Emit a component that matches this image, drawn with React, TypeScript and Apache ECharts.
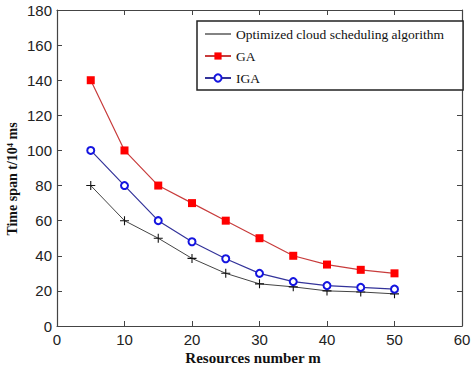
import React, { useEffect, useRef } from "react";
import * as echarts from "echarts";

const resources = [5, 10, 15, 20, 25, 30, 35, 40, 45, 50];
const optimized = [80, 60, 50, 38.5, 30, 24, 22.3, 20, 19.4, 18.3];
const ga = [140, 100, 80, 70, 60, 50, 40, 35, 32, 30];
const iga = [100, 80, 60, 48, 38.3, 30, 25.3, 23, 22, 21];
const seriesNames = ["Optimized cloud scheduling algorithm", "GA", "IGA"];
const xTitle = "Resources number m";
const yTitle = "Time span t/10\u2074 ms";

const plusPath = "path://M0,4.4h10v1.2h-10z M4.4,0h1.2v10h-1.2z";
const linePath = "path://M0,0h40v1.6h-40z";

export default function App() {
  const ref = useRef<HTMLDivElement>(null);
  useEffect(() => {
    const chart = echarts.init(ref.current!, null, { renderer: "svg" });
    const pair = (ys: number[]) => resources.map((x, i) => [x, ys[i]]);
    const axisCommon = {
      type: "value" as const,
      axisLine: { show: true, onZero: false, lineStyle: { color: "#444", width: 1.2 } },
      axisTick: { show: true, inside: true, length: 5, lineStyle: { color: "#444" } },
      splitLine: { show: false },
    };
    const titleFont = { fontFamily: "Liberation Serif", fontWeight: "bold" as const, fill: "#111" };
    chart.setOption({
      animation: false,
      backgroundColor: "#fff",
      grid: { left: 57, right: 12, top: 10, bottom: 39, containLabel: false, outerBoundsMode: "none" },
      graphic: [
        {
          type: "text",
          x: 253,
          y: 350,
          style: { ...titleFont, text: xTitle, fontSize: 15, align: "center", verticalAlign: "top" },
        },
        {
          type: "text",
          x: 12,
          y: 179,
          rotation: Math.PI / 2,
          style: { ...titleFont, text: yTitle, fontSize: 14, align: "center", verticalAlign: "middle" },
        },
      ],
      xAxis: [
        {
          ...axisCommon,
          min: 0,
          max: 60,
          interval: 10,
          axisLabel: { fontFamily: "Liberation Sans", fontSize: 15, color: "#222", margin: 6 },
        },
        {
          ...axisCommon,
          position: "top",
          min: 0,
          max: 60,
          interval: 10,
          axisLabel: { show: false },
        },
      ],
      yAxis: [
        {
          ...axisCommon,
          min: 0,
          max: 180,
          interval: 20,
          axisLabel: { fontFamily: "Liberation Sans", fontSize: 15, color: "#222", margin: 5 },
        },
        {
          ...axisCommon,
          position: "right",
          min: 0,
          max: 180,
          interval: 20,
          axisLabel: { show: false },
        },
      ],
      legend: {
        orient: "vertical",
        left: 197,
        top: 21,
        padding: [6, 19, 5, 7],
        borderColor: "#222",
        borderWidth: 1.5,
        backgroundColor: "#fff",
        itemWidth: 26,
        itemHeight: 9,
        itemGap: 8,
        textStyle: { fontFamily: "Liberation Serif", fontSize: 13.5, color: "#111", padding: [0, 0, 0, 0] },
        data: [
          { name: seriesNames[0], icon: linePath, itemStyle: { color: "#111" } },
          { name: seriesNames[1] },
          { name: seriesNames[2] },
        ],
      },
      series: [
        {
          name: seriesNames[0],
          type: "line",
          data: pair(optimized),
          symbol: plusPath,
          symbolSize: 9,
          itemStyle: { color: "#111" },
          lineStyle: { color: "#444", width: 1 },
          z: 3,
        },
        {
          name: seriesNames[1],
          type: "line",
          data: pair(ga),
          symbol: "rect",
          symbolSize: 8,
          itemStyle: { color: "#ff0000" },
          lineStyle: { color: "#c83c3c", width: 1.2 },
          z: 4,
        },
        {
          name: seriesNames[2],
          type: "line",
          data: pair(iga),
          symbol: "emptyCircle",
          symbolSize: 7,
          itemStyle: { color: "#1515e0", borderWidth: 1.3 },
          lineStyle: { color: "#33339a", width: 1.2 },
          z: 5,
        },
      ],
    });
    return () => chart.dispose();
  }, []);
  return <div ref={ref} style={{ width: 474, height: 365, position: "absolute", left: 0, top: 0 }} />;
}
